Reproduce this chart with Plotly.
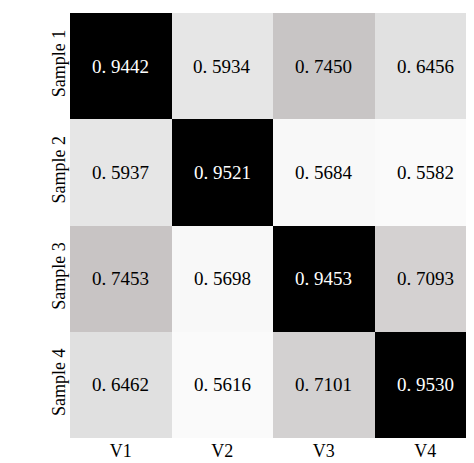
import plotly.graph_objects as go

cols = ["V1", "V2", "V3", "V4"]
rows = ["Sample 1", "Sample 2", "Sample 3", "Sample 4"]
vals = [
    [0.9442, 0.5934, 0.7450, 0.6456],
    [0.5937, 0.9521, 0.5684, 0.5582],
    [0.7453, 0.5698, 0.9453, 0.7093],
    [0.6462, 0.5616, 0.7101, 0.9530],
]

scale = [[0, "#fcfcfc"], [0.06, "#f7f7f7"], [0.1, "#e6e6e6"], [0.25, "#e0e0e0"],
         [0.4, "#d3d0d0"], [0.5, "#c6c2c2"], [0.9, "#000000"], [1, "#000000"]]

fig = go.Figure(go.Heatmap(z=vals, x=cols, y=rows, colorscale=scale, zmin=0.55, zmax=0.955,
                           showscale=False))

font = "Liberation Serif"
for i, r in enumerate(rows):
    for j, c in enumerate(cols):
        v = vals[i][j]
        fig.add_annotation(x=c, y=r, text=f"{v:.4f}".replace(".", ". "), showarrow=False,
                           font=dict(family=font, size=19, color="white" if v > 0.9 else "black"))

fig.update_layout(width=474, height=463, margin=dict(l=62, r=6, t=5, b=33),
                  plot_bgcolor="white", paper_bgcolor="white",
                  font=dict(family=font, size=18, color="black"))
fig.update_xaxes(showgrid=False, ticks="", showline=False)
fig.update_yaxes(autorange="reversed", showgrid=False, tickangle=-90, ticks="", showline=False)
fig.write_html("out.html")
